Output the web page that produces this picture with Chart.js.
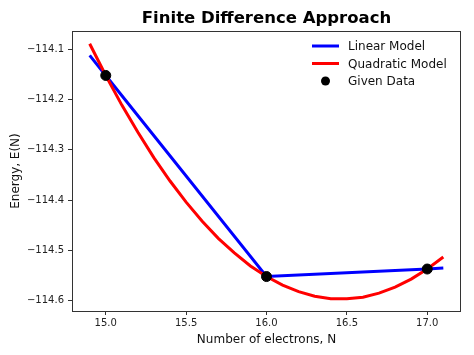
<!DOCTYPE html>
<html>
<head>
<meta charset="utf-8">
<script src="https://cdn.jsdelivr.net/npm/chart.js@4.4.1/dist/chart.umd.min.js"></script>
<style>
html,body{margin:0;padding:0;background:#fff;}
canvas{display:block;}
</style>
</head>
<body>
<canvas id="c" width="474" height="355"></canvas>
<script>
const linearN = [14.9, 15.0, 16.0, 17.0, 17.1];
const linearE = [-114.112, -114.152, -114.552, -114.537, -114.535];
const quadN = [14.9, 15.0, 15.1, 15.2, 15.3, 15.4, 15.5, 15.6, 15.7, 15.8, 15.9, 16.0,
               16.1, 16.2, 16.3, 16.4, 16.5, 16.6, 16.7, 16.8, 16.9, 17.0, 17.1];
const quadE = [-114.089, -114.152, -114.211, -114.265, -114.316, -114.362, -114.404, -114.442,
               -114.476, -114.505, -114.531, -114.552, -114.569, -114.582, -114.591, -114.596,
               -114.596, -114.593, -114.585, -114.573, -114.557, -114.537, -114.513];
const dataN = [15.0, 16.0, 17.0];
const dataE = [-114.152, -114.552, -114.537];
const xTicks = [15.0, 15.5, 16.0, 16.5, 17.0];
const xTickLabels = ['15.0', '15.5', '16.0', '16.5', '17.0'];
const yTicks = [-114.6, -114.5, -114.4, -114.3, -114.2, -114.1];
const yTickLabels = ['\u2212114.6', '\u2212114.5', '\u2212114.4', '\u2212114.3', '\u2212114.2', '\u2212114.1'];
const seriesNames = ['Linear Model', 'Quadratic Model', 'Given Data'];
const chartTitle = 'Finite Difference Approach';

const toPts = (xs, ys) => xs.map((x, i) => ({x: x, y: ys[i]}));
const FONT = '"DejaVu Sans", sans-serif';

const frameLegend = {
  id: 'frameLegend',
  afterDraw(chart) {
    const ctx = chart.ctx, a = chart.chartArea;
    ctx.save();
    ctx.strokeStyle = '#333';
    ctx.lineWidth = 1;
    ctx.strokeRect(Math.round(a.left) + 0.5, Math.round(a.top) + 0.5,
                   Math.round(a.right - a.left) - 1, Math.round(a.bottom - a.top));
    // title, centred over the plot area
    ctx.fillStyle = '#000';
    ctx.font = 'bold 16.5px ' + FONT;
    ctx.textAlign = 'center';
    ctx.textBaseline = 'middle';
    ctx.fillText(chartTitle, (a.left + a.right) / 2, 19);
    // legend
    const ds = chart.data.datasets;
    const x0 = a.right - 149, x1 = a.right - 122, tx = a.right - 113;
    const rows = [a.top + 15, a.top + 32.5, a.top + 50];
    ctx.font = '12px ' + FONT;
    ctx.textBaseline = 'middle';
    ctx.textAlign = 'left';
    ds.forEach((d, i) => {
      const y = rows[i];
      if (d.showLine === false) {
        ctx.fillStyle = d.pointBackgroundColor;
        ctx.beginPath();
        ctx.arc((x0 + x1) / 2, y, 4.5, 0, Math.PI * 2);
        ctx.fill();
      } else {
        ctx.strokeStyle = d.borderColor;
        ctx.lineWidth = 3;
        ctx.beginPath();
        ctx.moveTo(x0, y);
        ctx.lineTo(x1, y);
        ctx.stroke();
      }
      ctx.fillStyle = '#111';
      ctx.fillText(d.label, tx, y + 1);
    });
    ctx.restore();
  }
};

new Chart(document.getElementById('c'), {
  type: 'line',
  data: {
    datasets: [
      {label: seriesNames[0], data: toPts(linearN, linearE), borderColor: '#0000ff', backgroundColor: '#0000ff',
       borderWidth: 3, pointRadius: 0, tension: 0, order: 3, fill: false},
      {label: seriesNames[1], data: toPts(quadN, quadE), borderColor: '#ff0000', backgroundColor: '#ff0000',
       borderWidth: 3, pointRadius: 0, tension: 0, order: 2, fill: false},
      {label: seriesNames[2], data: toPts(dataN, dataE), showLine: false, pointRadius: 5,
       pointBackgroundColor: '#000000', pointBorderColor: '#000000', borderColor: '#000000',
       backgroundColor: '#000000', order: 1}
    ]
  },
  options: {
    responsive: false,
    devicePixelRatio: 1,
    animation: false,
    layout: {padding: {left: 0, right: 13, top: 31, bottom: 0}},
    plugins: {
      legend: {display: false},
      tooltip: {enabled: false},
      title: {display: false}
    },
    scales: {
      x: {
        type: 'linear',
        min: 14.79, max: 17.21,
        afterBuildTicks: s => { s.ticks = xTicks.map(v => ({value: v})); },
        afterFit: s => { s.height = 44; },
        ticks: {
          color: '#222', font: {family: FONT, size: 10}, padding: 2, maxRotation: 0,
          callback: (v, i) => xTickLabels[i]
        },
        grid: {display: true, drawOnChartArea: false, drawTicks: true, tickLength: 4, color: '#333'},
        border: {display: false},
        title: {display: true, text: 'Number of electrons, N', color: '#111',
                font: {family: FONT, size: 12}, padding: {top: 0, bottom: 8}}
      },
      y: {
        type: 'linear',
        min: -114.6205, max: -114.0636,
        afterBuildTicks: s => { s.ticks = yTicks.map(v => ({value: v})); },
        afterFit: s => { s.width = 72; },
        ticks: {
          color: '#222', font: {family: FONT, size: 10}, padding: 4,
          callback: (v, i) => yTickLabels[i]
        },
        grid: {display: true, drawOnChartArea: false, drawTicks: true, tickLength: 4, color: '#333'},
        border: {display: false},
        title: {display: true, text: 'Energy, E(N)', color: '#111',
                font: {family: FONT, size: 12}, padding: {top: 9, bottom: 0}}
      }
    }
  },
  plugins: [frameLegend]
});
</script>
</body>
</html>
